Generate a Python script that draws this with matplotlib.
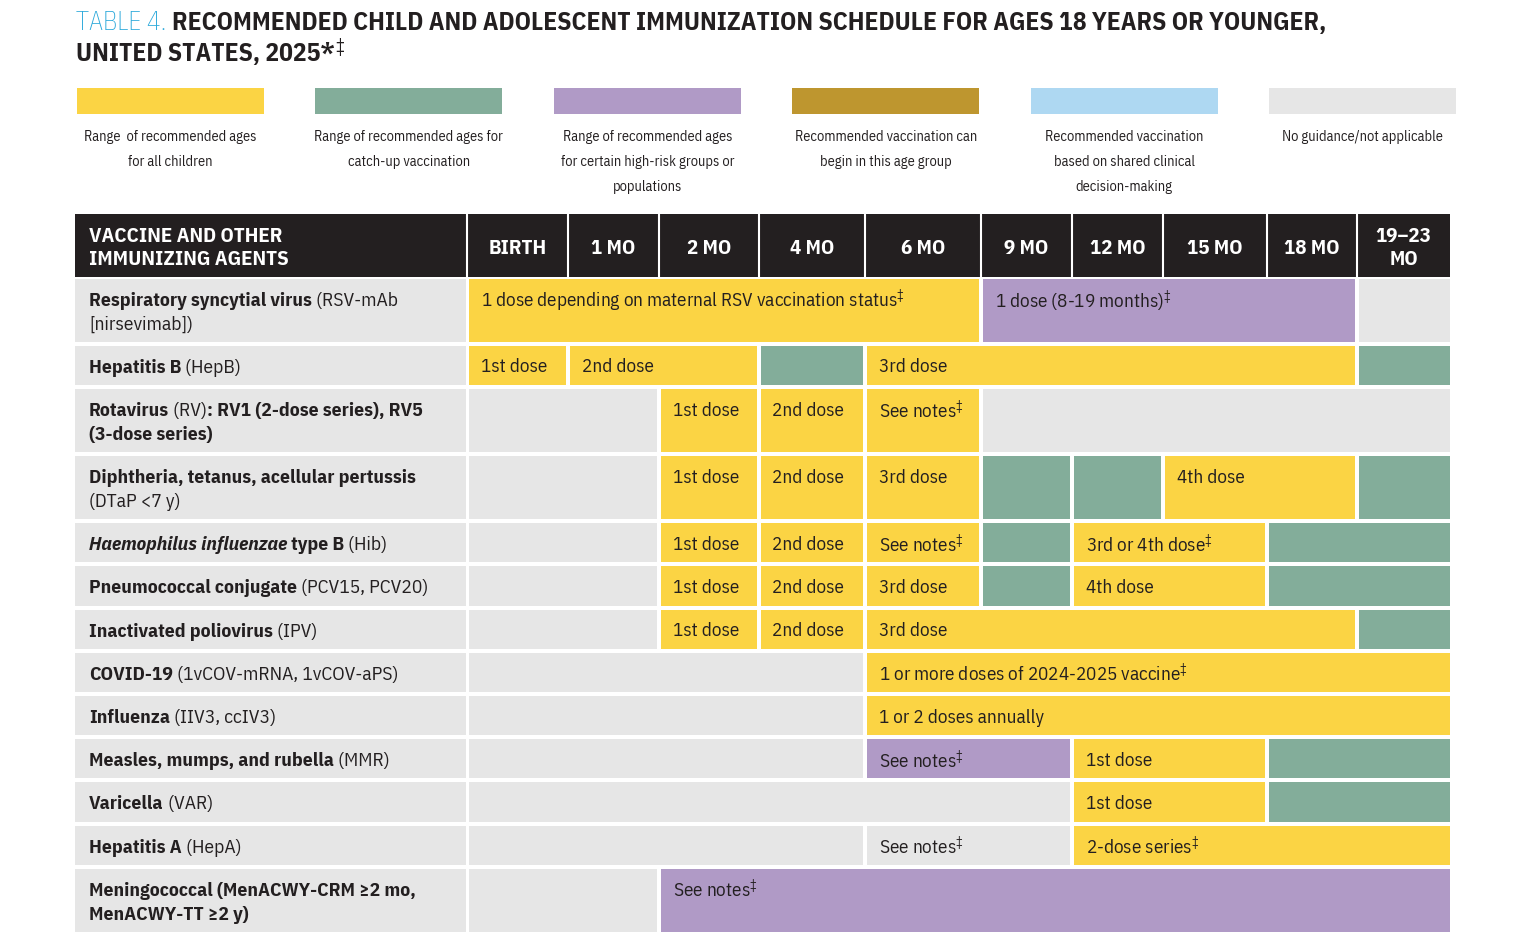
import matplotlib.pyplot as plt
from matplotlib.patches import Rectangle
from matplotlib.offsetbox import TextArea, HPacker, AnnotationBbox

FONT = ['IBM Plex Sans Condensed', 'DejaVu Sans']
plt.rcParams['font.family'] = FONT
plt.rcParams['mathtext.fontset'] = 'custom'
plt.rcParams['mathtext.rm'] = 'IBM Plex Sans Condensed'
plt.rcParams['mathtext.bf'] = 'IBM Plex Sans Condensed:bold'

DARK = '#231F20'
CYAN = '#2AA8DA'
COLORS = {'all': '#FBD444', 'catchup': '#83AD9A', 'risk': '#B09AC6',
          'begin': '#BE962F', 'shared': '#AED8F2', 'none': '#E6E6E6'}

# ---- data ----
title_lines = [
    [('TABLE 4. ', 'l', CYAN),
     ('RECOMMENDED CHILD AND ADOLESCENT IMMUNIZATION SCHEDULE FOR AGES 18 YEARS OR YOUNGER,', 'b', DARK)],
    [('UNITED STATES, 2025*', 'b', DARK), ('$^{\\ddag}$', 'b', DARK)],
]

legend_keys = ['all', 'catchup', 'risk', 'begin', 'shared', 'none']
legend_labels = ['Range  of recommended ages\nfor all children',
                 'Range of recommended ages for\ncatch-up vaccination',
                 'Range of recommended ages\nfor certain high-risk groups or\npopulations',
                 'Recommended vaccination can\nbegin in this age group',
                 'Recommended vaccination\nbased on shared clinical\ndecision-making',
                 'No guidance/not applicable']

header_first = 'VACCINE AND OTHER\nIMMUNIZING AGENTS'
ages = ['BIRTH', '1 MO', '2 MO', '4 MO', '6 MO', '9 MO', '12 MO', '15 MO', '18 MO', '19\u201323\nMO']

vaccines = [
    [[('Respiratory syncytial virus', 'b'), (' (RSV-mAb', 'n')], [('[nirsevimab])', 'n')]],
    [[('Hepatitis B', 'b'), (' (HepB)', 'n')]],
    [[('Rotavirus', 'b'), (' (RV)', 'n'), (': RV1 (2-dose series), RV5', 'b')], [('(3-dose series)', 'b')]],
    [[('Diphtheria, tetanus, acellular pertussis', 'b')], [('(DTaP <7 y)', 'n')]],
    [[('Haemophilus influenzae', 'bi'), (' type B', 'b'), (' (Hib)', 'n')]],
    [[('Pneumococcal conjugate', 'b'), (' (PCV15, PCV20)', 'n')]],
    [[('Inactivated poliovirus', 'b'), (' (IPV)', 'n')]],
    [[('COVID-19', 'b'), (' (1vCOV-mRNA, 1vCOV-aPS)', 'n')]],
    [[('Influenza', 'b'), (' (IIV3, ccIV3)', 'n')]],
    [[('Measles, mumps, and rubella', 'b'), (' (MMR)', 'n')]],
    [[('Varicella', 'b'), (' (VAR)', 'n')]],
    [[('Hepatitis A', 'b'), (' (HepA)', 'n')]],
    [[('Meningococcal (MenACWY-CRM \u22652 mo,', 'b')], [('MenACWY-TT \u22652 y)', 'b')]],
]

# (first age column, last age column, category, text)
schedule = [
    [(0, 4, 'all', '1 dose depending on maternal RSV vaccination status\u2021'),
     (5, 8, 'risk', '1 dose (8-19 months)\u2021'), (9, 9, 'none', '')],
    [(0, 0, 'all', '1st dose'), (1, 2, 'all', '2nd dose'), (3, 3, 'catchup', ''),
     (4, 8, 'all', '3rd dose'), (9, 9, 'catchup', '')],
    [(0, 1, 'none', ''), (2, 2, 'all', '1st dose'), (3, 3, 'all', '2nd dose'),
     (4, 4, 'all', 'See notes\u2021'), (5, 9, 'none', '')],
    [(0, 1, 'none', ''), (2, 2, 'all', '1st dose'), (3, 3, 'all', '2nd dose'),
     (4, 4, 'all', '3rd dose'), (5, 5, 'catchup', ''), (6, 6, 'catchup', ''),
     (7, 8, 'all', '4th dose'), (9, 9, 'catchup', '')],
    [(0, 1, 'none', ''), (2, 2, 'all', '1st dose'), (3, 3, 'all', '2nd dose'),
     (4, 4, 'all', 'See notes\u2021'), (5, 5, 'catchup', ''),
     (6, 7, 'all', '3rd or 4th dose\u2021'), (8, 9, 'catchup', '')],
    [(0, 1, 'none', ''), (2, 2, 'all', '1st dose'), (3, 3, 'all', '2nd dose'),
     (4, 4, 'all', '3rd dose'), (5, 5, 'catchup', ''), (6, 7, 'all', '4th dose'),
     (8, 9, 'catchup', '')],
    [(0, 1, 'none', ''), (2, 2, 'all', '1st dose'), (3, 3, 'all', '2nd dose'),
     (4, 8, 'all', '3rd dose'), (9, 9, 'catchup', '')],
    [(0, 3, 'none', ''), (4, 9, 'all', '1 or more doses of 2024-2025 vaccine\u2021')],
    [(0, 3, 'none', ''), (4, 9, 'all', '1 or 2 doses annually')],
    [(0, 3, 'none', ''), (4, 5, 'risk', 'See notes\u2021'), (6, 7, 'all', '1st dose'),
     (8, 9, 'catchup', '')],
    [(0, 5, 'none', ''), (6, 7, 'all', '1st dose'), (8, 9, 'catchup', '')],
    [(0, 3, 'none', ''), (4, 5, 'none', 'See notes\u2021'), (6, 9, 'all', '2-dose series\u2021')],
    [(0, 1, 'none', ''), (2, 9, 'risk', 'See notes\u2021')],
]

# ---- layout (pixels) ----
LEFT, RIGHT = 75, 1450
col_edges = [467, 567.5, 659, 758.5, 865, 981, 1072, 1163, 1267, 1357, 1450]
HEAD_TOP, HEAD_BOT = 215, 278
ROW_TOP0 = 280
TALL, SHORT, GAP = 67, 43.2, 4

STYLE = {'b': dict(fontweight='bold'), 'n': dict(fontweight='normal'),
         'l': dict(fontweight='light'),
         'bi': dict(fontweight='bold', fontstyle='italic')}


def rich_line(ax, x, y, parts, size):
    areas = []
    for p in parts:
        color = p[2] if len(p) > 2 else DARK
        props = dict(fontsize=size, color=color, family=FONT)
        props.update(STYLE[p[1]])
        areas.append(TextArea(p[0], textprops=props))
    pack = HPacker(children=areas, align='baseline', pad=0, sep=0)
    ab = AnnotationBbox(pack, (x, y), xycoords='data', box_alignment=(0, 0.5),
                        frameon=False, pad=0)
    ax.add_artist(ab)


def sup(text):
    return text.replace('\u2021', '$^{\\ddag}$')


fig = plt.figure(figsize=(15.36, 9.45), dpi=100)
ax = fig.add_axes([0, 0, 1, 1])
ax.set_xlim(0, 1536)
ax.set_ylim(945, 0)
ax.axis('off')

# title
for i, line in enumerate(title_lines):
    rich_line(ax, 76, 23 + i * 31, line, 18.4)

# legend
for i, (key, lab) in enumerate(zip(legend_keys, legend_labels)):
    x0 = 77 + i * 238.4
    ax.add_patch(Rectangle((x0, 89), 187, 26, color=COLORS[key], lw=0))
    ax.text(x0 + 93.5, 130, lab, ha='center', va='top', fontsize=10.4,
            color=DARK, linespacing=2.0)

# header
ax.add_patch(Rectangle((LEFT, HEAD_TOP), RIGHT - LEFT, HEAD_BOT - HEAD_TOP, color=DARK, lw=0))
for e in col_edges[:-1]:
    ax.plot([e, e], [HEAD_TOP, HEAD_BOT], color='white', lw=1.5)
ax.text(89, 248, header_first, ha='left', va='center', fontsize=15,
        fontweight='bold', color='white', linespacing=1.25)
for j, age in enumerate(ages):
    xc = (col_edges[j] + col_edges[j + 1]) / 2
    ax.text(xc, 248, age, ha='center', va='center', fontsize=15,
            fontweight='bold', color='white', linespacing=1.25)

# body rows
top = ROW_TOP0
for label, cells in zip(vaccines, schedule):
    h = TALL if len(label) > 1 else SHORT
    ax.add_patch(Rectangle((LEFT, top), col_edges[0] - 1.5 - LEFT, h - GAP,
                           color=COLORS['none'], lw=0))
    for k, line in enumerate(label):
        rich_line(ax, 89, top + 21 + k * 24, line, 14)
    for c0, c1, kind, txt in cells:
        x0 = col_edges[c0] + 2
        x1 = col_edges[c1 + 1] - (2 if c1 < len(ages) - 1 else 0)
        ax.add_patch(Rectangle((x0, top), x1 - x0, h - GAP, color=COLORS[kind], lw=0))
        if txt:
            ax.text(x0 + 12, top + 20.5, sup(txt), ha='left', va='center',
                    fontsize=13.8, color=DARK)
    top += h

fig.savefig('out.png', dpi=100)
